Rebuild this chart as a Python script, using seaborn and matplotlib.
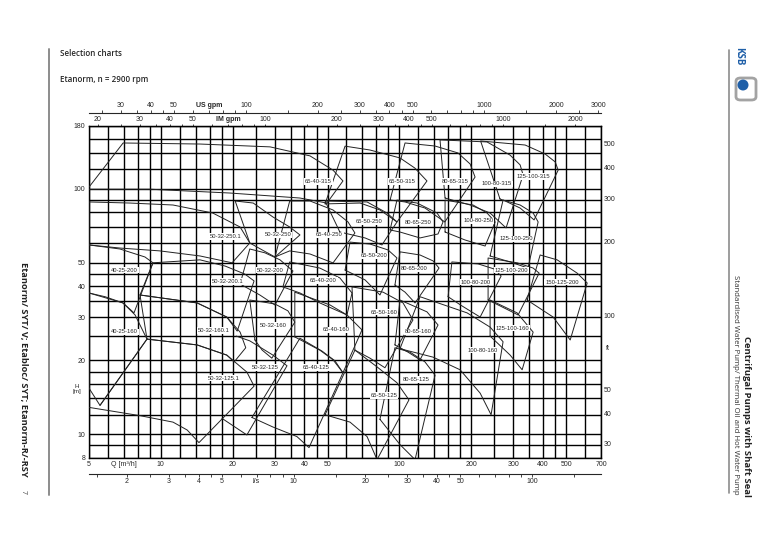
import matplotlib
matplotlib.use("Agg")
import pandas as pd
import matplotlib.pyplot as plt
import seaborn as sns
from matplotlib.ticker import NullFormatter, NullLocator
from matplotlib.lines import Line2D
from matplotlib.patches import FancyBboxPatch, Ellipse

# grid and axis values
grid_q = [5, 6, 7, 8, 9, 10, 12, 14, 16, 18, 20, 25, 30, 35, 40, 45, 50, 60, 70, 80, 90,
          100, 120, 140, 160, 180, 200, 250, 300, 350, 400, 450, 500, 600, 700]
grid_h = [8, 9, 10, 12, 14, 16, 18, 20, 25, 30, 35, 40, 45, 50, 60, 70, 80, 90, 100,
          120, 140, 160, 180]

q_ticks = [5, 7, 10, 20, 30, 40, 50, 100, 200, 300, 400, 500, 700]
q_labels = ['5', 'Q [m³/h]', '10', '20', '30', '40', '50', '100', '200', '300', '400', '500', '700']
h_ticks = [8, 10, 20, 30, 40, 50, 100, 180]
ft_ticks = [30, 40, 50, 100, 200, 300, 400, 500]
ls_ticks = [2, 3, 4, 5, 7, 10, 20, 30, 40, 50, 100]
ls_labels = ['2', '3', '4', '5', 'l/s', '10', '20', '30', '40', '50', '100']
ls_minor = [1.5, 2.5, 3.5, 4.5, 6, 8, 9, 15, 25, 35, 45, 60, 70, 80, 90, 150]
us_ticks = [30, 40, 50, 70, 100, 200, 300, 400, 500, 1000, 2000, 3000]
us_labels = ['30', '40', '50', 'US gpm', '100', '200', '300', '400', '500', '1000', '2000', '3000']
us_minor = [25, 35, 45, 60, 80, 90, 150, 250, 350, 450, 600, 700, 800, 900, 1500, 2500]
im_ticks = [20, 30, 40, 50, 70, 100, 200, 300, 400, 500, 1000, 2000]
im_labels = ['20', '30', '40', '50', 'IM gpm', '100', '200', '300', '400', '500', '1000', '2000']
im_minor = [25, 35, 45, 60, 80, 90, 150, 250, 350, 450, 600, 700, 800, 900, 1500]

# pump fields, (Q m3/h, H m) outline points
pts_40_25_200 = [(5, 37.6), (5, 59), (6.74, 56.8), (8.58, 52.7), (9.27, 49.9), (7.72, 31.2),
                 (6.94, 34.25), (5.84, 36.3), (5, 37.6)]
pts_40_25_160 = [(5, 15.4), (5, 37.6), (6.94, 34.25), (7.8, 30.6), (8.18, 27.85), (8.75, 24.4),
                 (5.56, 13.1), (5, 15.4)]
pts_50_32_250_1 = [(5, 59), (5, 88.3), (7.42, 87.4), (11.25, 85.8), (16.5, 79.6), (21.5, 69.8),
                   (23.6, 60.1), (19.9, 49.9), (14.6, 53.2), (9.9, 55.8), (6.75, 57.3), (5, 59)]
pts_50_32_250 = [(23.6, 60.1), (20.5, 89.1), (24.4, 87.4), (29.5, 76.7), (34.7, 69.8), (38.3, 64.8),
                 (30.1, 52.7), (26.6, 56.3), (23.6, 60.1)]
pts_65_40_315 = [(5, 101.5), (6.95, 153.5), (14.6, 152), (28.7, 148), (42.2, 136), (52.7, 119),
                 (58, 107.5), (49.7, 87.4), (38.3, 91.6), (19.5, 96), (9.0, 99.5), (5, 99.5)]
pts_65_50_315 = [(48.8, 86.7), (59.2, 149), (75.3, 143.7), (100.6, 133.4), (116, 121.4),
                 (130.5, 107.5), (97.7, 73.2), (82.9, 81.9), (68.4, 87.4), (48.8, 86.7)]
pts_80_65_315 = [(91.4, 89.9), (105.6, 153.5), (141, 149.2), (176, 139.8), (198, 126),
                 (207.6, 111.5), (155, 73.2), (128, 83.4), (105.6, 88.3), (91.4, 89.9)]
pts_100_80_315 = [(155.4, 91.6), (148, 158), (233, 155), (291, 137), (320.7, 125), (330, 113.7),
                  (280, 69.2), (240, 79.6), (198, 85.8), (155.4, 91.6)]
pts_125_100_315 = [(264, 90.8), (219, 156.4), (336.5, 150.6), (408, 138.5), (450, 128.5),
                   (463, 119), (367, 74.6), (320.7, 83.4), (277.5, 89.1), (264, 90.8)]
pts_65_40_250 = [(30.1, 52.7), (34.7, 89.1), (42.2, 89.1), (52.7, 81.9), (60.9, 73.2), (65.1, 66),
                 (52.7, 49.85), (42.2, 54.2), (34.7, 55.8), (30.1, 52.7)]
pts_65_50_250 = [(56.3, 66.6), (48.8, 89.1), (73.2, 88.3), (88.7, 79.6), (97.7, 73.2), (84.5, 59),
                 (71.8, 63), (56.3, 66.6)]
pts_80_65_250 = [(91.4, 67.9), (97.7, 89.9), (118.6, 87.4), (143.8, 79.6), (152.4, 73.2),
                 (145.2, 65.4), (122, 63), (100.6, 66.6), (91.4, 67.9)]
pts_100_80_250 = [(155.4, 66.6), (155.4, 89.9), (203.6, 85.8), (233, 79.6), (252, 73.2),
                  (228.7, 58.4), (188.5, 61.8), (155.4, 66.6)]
pts_125_100_250 = [(240, 53.2), (272, 89.9), (320.7, 85.8), (363.6, 79.6), (381.6, 73.2),
                   (346, 47.5), (291, 50.3), (240, 53.2)]
pts_50_32_200_1 = [(8.18, 36.9), (9.27, 49.9), (14.6, 51.3), (18.6, 48.4), (22.5, 44.9),
                   (24.6, 42.1), (20.9, 26.3), (18.9, 30), (14.2, 34.25), (8.18, 36.9)]
pts_50_32_200 = [(21.5, 40.9), (23.6, 56.8), (27.3, 54.8), (31.6, 51.3), (35.8, 46.2), (30.1, 33.6),
                 (26, 36.9), (21.5, 40.9)]
pts_65_40_200 = [(32.5, 39.8), (34.7, 50.3), (46.4, 47.5), (56.3, 43.3), (63.3, 37.6), (60.3, 30.6),
                 (46.4, 34.25), (38.3, 37.6), (32.5, 39.8)]
pts_65_50_200 = [(59.2, 46.6), (62.1, 60.6), (75.3, 59.5), (89.6, 56.3), (97.7, 52.2), (82.9, 36.9),
                 (71.8, 42.5), (59.2, 46.6)]
pts_80_65_200 = [(95.8, 40.5), (100.6, 55.3), (122, 53.7), (138.4, 50.8), (146.6, 47.5),
                 (116.3, 34.25), (105.6, 37.9), (95.8, 40.5)]
pts_100_80_200 = [(160, 36.3), (166, 50.3), (213.7, 49.4), (249.5, 47.1), (267, 44.1), (218, 30),
                  (183, 33.3), (160, 36.3)]
pts_125_100_200 = [(235.4, 35.2), (235.4, 52.2), (311.5, 49.9), (363.6, 47.5), (385.3, 45.3),
                   (314.5, 30.6), (264.3, 33.3), (235.4, 35.2)]
pts_150_125_200 = [(343, 35.2), (389, 53.7), (458.4, 51.3), (556, 45.3), (612.6, 41.3), (520, 24.2),
                   (441, 30), (343, 35.2)]
pts_50_32_160_1 = [(8.75, 24.4), (8.18, 36.9), (14.2, 34.25), (18.9, 30), (21.5, 26.05), (22.7, 22.5),
                   (20.3, 19.7), (18.9, 21.0), (14.2, 23.1), (8.75, 24.4)]
pts_50_32_160 = [(24.8, 24.2), (23.6, 35.2), (26.6, 34.6), (30.1, 33.9), (34.1, 31.8), (36.45, 28.6),
                 (29.2, 20.4), (26.6, 22.0), (24.8, 24.2)]
pts_65_40_160 = [(36.45, 24.9), (36.45, 37.9), (51.2, 33.6), (60.3, 30.6), (69.7, 26.6), (58.0, 17.8),
                 (52.7, 20.1), (46.4, 22.0), (36.45, 24.9)]
pts_65_50_160 = [(65.1, 22.0), (63.3, 39.8), (85.4, 37.9), (103.6, 34.25), (114, 29.2), (87, 18.65),
                 (75.3, 20.4), (65.1, 22.0)]
pts_80_65_160 = [(95.8, 23.1), (100.6, 35.2), (130.5, 31.5), (145.2, 27.85), (122.1, 20.1),
                 (108.6, 21.6), (95.8, 23.1)]
pts_100_80_160 = [(100.6, 22.3), (122.1, 36.3), (192.2, 31.2), (240, 27.3), (272, 23.8), (242.3, 12.0),
                  (218, 14.7), (179.6, 18.3), (138.4, 20.6), (100.6, 22.3)]
pts_125_100_160 = [(240, 25.1), (240, 35.2), (311.5, 31.2), (363.6, 26.05), (327, 18.3), (291.2, 21.0),
                   (240, 25.1)]
pts_50_32_125_1 = [(5, 12.86), (8.18, 11.9), (11.25, 11.2), (12.9, 10.4), (14.45, 9.24), (24.6, 15.7),
                   (22.95, 17.9), (18.9, 21.0), (14.2, 23.1), (8.75, 24.4), (5.56, 13.1)]
pts_50_32_125 = [(18.05, 11.6), (22.95, 9.93), (33.8, 19.0), (29.5, 21.0), (23.6, 24.0), (20.7, 25.1)]
pts_65_40_125 = [(24.1, 11.7), (29.5, 10.7), (37.2, 9.78), (41.8, 8.82), (58, 17.8), (53.7, 19.9),
                 (47.4, 21.8), (38.3, 24.6), (24.1, 11.7)]
pts_65_50_125 = [(48.8, 12.0), (62.1, 11.2), (73.2, 9.78), (80.6, 7.88), (109.7, 13.8), (97.7, 16.2),
                 (80.6, 18.8), (65.1, 22.0), (48.8, 12.0)]
pts_80_65_125 = [(82.9, 11.5), (100.6, 9.07), (116.3, 7.88), (141.1, 17.4), (128, 19.7), (110.8, 21.6),
                 (95.8, 22.5), (82.9, 11.5)]

# field labels and where they sit
label_names = ['40-25-200', '40-25-160', '50-32-250.1', '50-32-250', '50-32-200.1', '50-32-200',
               '50-32-160.1', '50-32-160', '50-32-125.1', '50-32-125',
               '65-40-315', '65-40-250', '65-40-200', '65-40-160', '65-40-125',
               '65-50-315', '65-50-250', '65-50-200', '65-50-160', '65-50-125',
               '80-65-315', '80-65-250', '80-65-200', '80-65-160', '80-65-125',
               '100-80-315', '100-80-250', '100-80-200', '100-80-160',
               '125-100-315', '125-100-250', '125-100-200', '125-100-160', '150-125-200']
label_q = [7.04, 7.04, 18.7, 30.9, 19.0, 28.7, 16.7, 29.6, 18.35, 27.5,
           45.8, 51.0, 48.1, 54.4, 45.0,
           102.3, 74.5, 78.1, 86.0, 86.0,
           171, 120.2, 115.8, 120.2, 117.5,
           256.8, 215, 209.6, 223.9,
           366, 308, 295, 298.4, 479.8]
label_h = [46.6, 26.1, 63.8, 64.8, 41.8, 46.6, 26.4, 27.7, 16.9, 18.7,
           106.8, 64.8, 42.2, 26.6, 18.7,
           106.8, 73.4, 53.2, 31.4, 14.4,
           106.8, 73.0, 47.1, 26.1, 16.7,
           104.5, 73.9, 41.6, 22.0,
           111.9, 62.4, 46.6, 27.0, 41.6]

fields = {
    '40-25-200': pts_40_25_200, '40-25-160': pts_40_25_160,
    '50-32-250.1': pts_50_32_250_1, '50-32-250': pts_50_32_250,
    '50-32-200.1': pts_50_32_200_1, '50-32-200': pts_50_32_200,
    '50-32-160.1': pts_50_32_160_1, '50-32-160': pts_50_32_160,
    '50-32-125.1': pts_50_32_125_1, '50-32-125': pts_50_32_125,
    '65-40-315': pts_65_40_315, '65-40-250': pts_65_40_250, '65-40-200': pts_65_40_200,
    '65-40-160': pts_65_40_160, '65-40-125': pts_65_40_125,
    '65-50-315': pts_65_50_315, '65-50-250': pts_65_50_250, '65-50-200': pts_65_50_200,
    '65-50-160': pts_65_50_160, '65-50-125': pts_65_50_125,
    '80-65-315': pts_80_65_315, '80-65-250': pts_80_65_250, '80-65-200': pts_80_65_200,
    '80-65-160': pts_80_65_160, '80-65-125': pts_80_65_125,
    '100-80-315': pts_100_80_315, '100-80-250': pts_100_80_250, '100-80-200': pts_100_80_200,
    '100-80-160': pts_100_80_160,
    '125-100-315': pts_125_100_315, '125-100-250': pts_125_100_250,
    '125-100-200': pts_125_100_200, '125-100-160': pts_125_100_160,
    '150-125-200': pts_150_125_200,
}

rows = []
for name, pts in fields.items():
    for i, (q, h) in enumerate(pts):
        rows.append({'field': name, 'order': i, 'Q': q, 'H': h})
curves = pd.DataFrame(rows)

sns.set_style("white")
plt.rcParams['font.family'] = ['Liberation Sans', 'DejaVu Sans']

fig = plt.figure(figsize=(7.68, 5.43), dpi=100)
ax = fig.add_axes([89 / 768, 1 - 458 / 543, 512 / 768, 332 / 543])
ax.set_xscale('log')
ax.set_yscale('log')

sns.lineplot(data=curves, x='Q', y='H', units='field', estimator=None, sort=False,
             color='#222222', linewidth=0.7, legend=False, ax=ax, zorder=3)

ax.set_xlim(5, 700)
ax.set_ylim(8, 180)
ax.set_xlabel('')
ax.set_ylabel('')

ax.set_xticks(q_ticks, q_labels)
ax.set_xticks([g for g in grid_q if g not in q_ticks], minor=True)
ax.xaxis.set_minor_formatter(NullFormatter())
ax.set_yticks(h_ticks, [str(v) for v in h_ticks])
ax.set_yticks([g for g in grid_h if g not in h_ticks], minor=True)
ax.yaxis.set_minor_formatter(NullFormatter())
ax.tick_params(which='both', length=0, labelsize=5, pad=2.5)
ax.grid(True, which='both', color='black', linewidth=1.0)
for sp in ax.spines.values():
    sp.set_color('black')
    sp.set_linewidth(1.0)

for name, q, h in zip(label_names, label_q, label_h):
    ax.text(q, h, name, fontsize=4.2, ha='center', va='center', zorder=6,
            bbox=dict(facecolor='white', edgecolor='none', pad=0.5))

# secondary scales
sec_ft = ax.secondary_yaxis('right', functions=(lambda m: m / 0.3048, lambda f: f * 0.3048))
sec_ft.set_ticks(ft_ticks, [str(v) for v in ft_ticks])
sec_ft.yaxis.set_minor_locator(NullLocator())
sec_ft.tick_params(length=0, labelsize=5, pad=2)

sec_im = ax.secondary_xaxis('top', functions=(lambda q: q * 3.666, lambda g: g / 3.666))
sec_im.set_ticks(im_ticks, im_labels)
sec_im.set_ticks(im_minor, minor=True)
sec_im.xaxis.set_minor_formatter(NullFormatter())
sec_im.tick_params(which='both', direction='out', length=1.8, width=0.6, labelsize=5, pad=0.5)

sec_us = ax.secondary_xaxis(1.04, functions=(lambda q: q * 4.403, lambda g: g / 4.403))
sec_us.set_ticks(us_ticks, us_labels)
sec_us.set_ticks(us_minor, minor=True)
sec_us.xaxis.set_minor_formatter(NullFormatter())
sec_us.tick_params(which='both', direction='out', length=2.2, width=0.6, labelsize=5, pad=0.8)

sec_ls = ax.secondary_xaxis(-0.048, functions=(lambda q: q / 3.6, lambda s: s * 3.6))
sec_ls.set_ticks(ls_ticks, ls_labels)
sec_ls.set_ticks(ls_minor, minor=True)
sec_ls.xaxis.set_minor_formatter(NullFormatter())
sec_ls.tick_params(which='both', direction='out', length=2.2, width=0.6, labelsize=5, pad=0.8)

for sec in (sec_im, sec_us, sec_ls):
    for sp in sec.spines.values():
        sp.set_linewidth(0.8)
    for t in sec.get_xticklabels():
        if 'gpm' in t.get_text():
            t.set_fontweight('bold')

fig.text(77 / 768, 1 - 389 / 543, 'H\n[m]', fontsize=4.5, ha='center', va='center', linespacing=1.0)
fig.text(608 / 768, 1 - 349 / 543, 'ft', fontsize=5, ha='center', va='center')

# page decoration
hdr = ['Open Sans', 'DejaVu Sans']
fig.text(60 / 768, 1 - 53 / 543, 'Selection charts', fontsize=5.8, family=hdr,
         fontweight='semibold', va='center', ha='left')
fig.text(60 / 768, 1 - 79 / 543, 'Etanorm, n = 2900 rpm', fontsize=5.8, family=hdr,
         fontweight='semibold', va='center', ha='left')
fig.add_artist(Line2D([49 / 768, 49 / 768], [1 - 49 / 543, 1 - 495 / 543],
                      transform=fig.transFigure, color='#8c8c8c', lw=1.4))
fig.add_artist(Line2D([729 / 768, 729 / 768], [1 - 50 / 543, 1 - 493 / 543],
                      transform=fig.transFigure, color='#8c8c8c', lw=1.2))
fig.text(23 / 768, 1 - 369 / 543, 'Etanorm/ SYT/ V; Etabloc/ SYT; Etanorm-R/-RSY', fontsize=6.7,
         family=hdr, fontweight='bold', rotation=-90, ha='center', va='center', color='#222222')
fig.text(23 / 768, 1 - 492 / 543, '7', fontsize=5, family=hdr, rotation=-90, ha='center',
         va='center', color='#444444')
fig.text(747 / 768, 1 - 497 / 543, 'Centrifugal Pumps with Shaft Seal', fontsize=6.8, family=hdr,
         fontweight='bold', rotation=-90, ha='center', va='bottom', color='#222222')
fig.text(735.5 / 768, 1 - 495 / 543, 'Standardised Water Pump/ Thermal Oil and Hot Water Pump',
         fontsize=5.6, family=hdr, rotation=-90, ha='center', va='bottom', color='#333333')
fig.text(739 / 768, 1 - 56.5 / 543, 'KSB', fontsize=7, family=hdr, fontweight='bold',
         rotation=-90, ha='center', va='center', color='#1f5fa8')
fig.add_artist(FancyBboxPatch((736 / 768, 1 - 100 / 543), 20 / 768, 22 / 543,
                              boxstyle='round,pad=0,rounding_size=0.006',
                              transform=fig.transFigure, facecolor='none',
                              edgecolor='#a3a3a3', lw=2.0))
fig.add_artist(Ellipse((743 / 768, 1 - 85 / 543), 11 / 768, 11 / 543, transform=fig.transFigure,
                       facecolor='#1f5fa8', edgecolor='none'))

fig.savefig('out.png', dpi=100)
